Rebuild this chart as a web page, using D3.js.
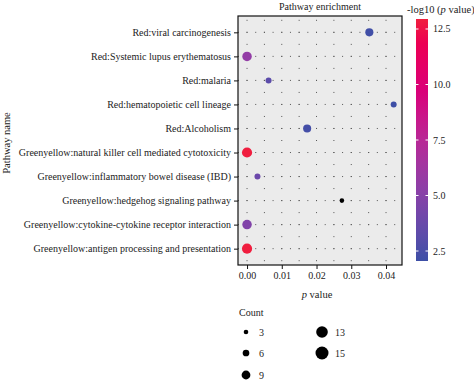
<!DOCTYPE html>
<html>
<head>
<meta charset="utf-8">
<script src="https://cdn.jsdelivr.net/npm/d3@7"></script>
<style>
  body { margin: 0; background: #fff; }
  text { font-family: "Liberation Serif", "DejaVu Serif", serif; fill: #222; }
</style>
</head>
<body>
<script>
var pathways = [
  'Red:viral carcinogenesis',
  'Red:Systemic lupus erythematosus',
  'Red:malaria',
  'Red:hematopoietic cell lineage',
  'Red:Alcoholism',
  'Greenyellow:natural killer cell mediated cytotoxicity',
  'Greenyellow:inflammatory bowel disease (IBD)',
  'Greenyellow:hedgehog signaling pathway',
  'Greenyellow:cytokine-cytokine receptor interaction',
  'Greenyellow:antigen processing and presentation'
]
var pValues = [0.0352, 0.0000, 0.0062, 0.0422, 0.0173, 0.0000, 0.0030, 0.0273, 0.0000, 0.0000]
var counts = [8, 10, 5, 5, 8, 11, 5, 3, 10, 11]
// -log10 colour value; null = drawn black
var colorValues = [2.2, 5.6, 3.2, 2.1, 2.3, 12.9, 3.9, null, 4.8, 12.9]

var xTicks = [0.00, 0.01, 0.02, 0.03, 0.04]
var colorTicks = [2.5, 5.0, 7.5, 10.0, 12.5]
var legendCounts = [3, 6, 9, 13, 15]

var w = 474
var h = 381

var panel = { left: 238, right: 402, top: 16, bottom: 265 }

var svg = d3.select('body')
            .append('svg')
            .attr('width', w)
            .attr('height', h)

var data = pathways.map(function (d, i) {
  return { name: d, p: pValues[i], count: counts[i], c: colorValues[i] }
})

var x = d3.scaleLinear()
        .domain([-0.0026, 0.0446])
        .range([panel.left, panel.right])

var y = d3.scalePoint()
        .domain(pathways)
        .range([panel.top, panel.bottom])
        .padding(0.68)

var r = d3.scaleLinear()
        .domain([3, 15])
        .range([2.3, 6.5])

var color = d3.scaleLinear()
        .domain([2.05, 12.95])
        .range(['#3d4fa6', '#f01f3e'])
        .interpolate(d3.interpolateHcl)

// PANEL BACKGROUND
svg.append('rect')
    .attr('x', panel.left)
    .attr('y', panel.top)
    .attr('width', panel.right - panel.left)
    .attr('height', panel.bottom - panel.top)
    .attr('fill', '#ebebeb')

// DOTTED GRID
var gridX = d3.range(0, 0.0401, 0.005)
svg.append('g')
    .selectAll('line')
    .data(gridX)
    .enter()
      .append('line')
      .attr('x1', function (d) { return x(d) })
      .attr('x2', function (d) { return x(d) })
      .attr('y1', panel.top)
      .attr('y2', panel.bottom)
      .attr('stroke', '#555')
      .attr('stroke-width', 1)
      .attr('stroke-dasharray', '1,' + (y.step() / 2 - 1))
      .attr('stroke-dashoffset', -(y(pathways[0]) - panel.top - 0.5))

var dotStep = x(0.0025) - x(0)
svg.append('g')
    .selectAll('line')
    .data(pathways)
    .enter()
      .append('line')
      .attr('x1', panel.left)
      .attr('x2', panel.right)
      .attr('y1', function (d) { return y(d) })
      .attr('y2', function (d) { return y(d) })
      .attr('stroke', '#555')
      .attr('stroke-width', 1)
      .attr('stroke-dasharray', '1,' + (dotStep - 1))
      .attr('stroke-dashoffset', -((x(0) - panel.left) % dotStep - 0.5))

// POINTS
svg.append('g')
    .selectAll('circle')
    .data(data)
    .enter()
      .append('circle')
      .attr('cx', function (d) { return x(d.p) })
      .attr('cy', function (d) { return y(d.name) })
      .attr('r', function (d) { return r(d.count) })
      .attr('fill', function (d) { return d.c === null ? '#000' : color(d.c) })

// BORDER
svg.append('rect')
    .attr('x', panel.left)
    .attr('y', panel.top)
    .attr('width', panel.right - panel.left)
    .attr('height', panel.bottom - panel.top)
    .attr('fill', 'none')
    .attr('stroke', '#111')
    .attr('stroke-width', 1.2)

// AXES
var xAxis = d3.axisBottom(x)
              .tickValues(xTicks)
              .tickFormat(d3.format('.2f'))
              .tickSize(4)
              .tickPadding(3)

var yAxis = d3.axisLeft(y)
              .tickSize(4)
              .tickPadding(3)

var gx = svg.append('g')
    .attr('transform', 'translate(0,' + panel.bottom + ')')
    .call(xAxis)
gx.select('.domain').remove()
gx.selectAll('text').style('font-size', '10px').style('font-family', '"Liberation Serif", serif').attr('fill', '#222')
gx.selectAll('line').attr('stroke', '#111')

var gy = svg.append('g')
    .attr('transform', 'translate(' + panel.left + ',0)')
    .call(yAxis)
gy.select('.domain').remove()
gy.selectAll('text').style('font-size', '10px').style('font-family', '"Liberation Serif", serif').attr('fill', '#222')
gy.selectAll('line').attr('stroke', '#111')

// TITLES
svg.append('text')
    .attr('x', (panel.left + panel.right) / 2)
    .attr('y', 10)
    .attr('text-anchor', 'middle')
    .style('font-size', '10px')
    .text('Pathway enrichment')

var xt = svg.append('text')
    .attr('x', (panel.left + panel.right) / 2 - 3)
    .attr('y', 298)
    .attr('text-anchor', 'middle')
    .style('font-size', '10.5px')
xt.append('tspan').style('font-style', 'italic').text('p')
xt.append('tspan').text(' value')

svg.append('text')
    .attr('transform', 'translate(10,143) rotate(-90)')
    .attr('text-anchor', 'middle')
    .style('font-size', '10.5px')
    .text('Pathway name')

// COLOUR BAR
var bar = { x: 416, w: 12, top: 19, bottom: 261 }
var cy = d3.scaleLinear()
        .domain(color.domain())
        .range([bar.bottom, bar.top])

var grad = svg.append('defs')
    .append('linearGradient')
    .attr('id', 'cbar')
    .attr('x1', 0).attr('y1', 1).attr('x2', 0).attr('y2', 0)
d3.range(0, 1.001, 0.1).forEach(function (t) {
  var v = color.domain()[0] + t * (color.domain()[1] - color.domain()[0])
  grad.append('stop').attr('offset', t).attr('stop-color', color(v))
})

svg.append('rect')
    .attr('x', bar.x)
    .attr('y', bar.top)
    .attr('width', bar.w)
    .attr('height', bar.bottom - bar.top)
    .attr('fill', 'url(#cbar)')

var cticks = svg.append('g')
    .selectAll('g')
    .data(colorTicks)
    .enter()
      .append('g')
cticks.append('line')
    .attr('x1', bar.x).attr('x2', bar.x + 2.5)
    .attr('y1', function (d) { return cy(d) })
    .attr('y2', function (d) { return cy(d) })
    .attr('stroke', '#fff')
cticks.append('line')
    .attr('x1', bar.x + bar.w - 2.5).attr('x2', bar.x + bar.w)
    .attr('y1', function (d) { return cy(d) })
    .attr('y2', function (d) { return cy(d) })
    .attr('stroke', '#fff')
cticks.append('text')
    .attr('x', bar.x + bar.w + 5)
    .attr('y', function (d) { return cy(d) })
    .attr('dy', '0.35em')
    .style('font-size', '10px')
    .text(function (d) { return d.toFixed(1) })

var ct = svg.append('text')
    .attr('x', 407)
    .attr('y', 13)
    .style('font-size', '10.5px')
ct.append('tspan').text('-log10 (')
ct.append('tspan').style('font-style', 'italic').text('p')
ct.append('tspan').text(' value)')

// SIZE LEGEND
svg.append('text')
    .attr('x', 239)
    .attr('y', 316)
    .style('font-size', '10px')
    .text('Count')

var legPos = [
  { x: 246, y: 332 }, { x: 246, y: 353 }, { x: 246, y: 375 },
  { x: 322, y: 332 }, { x: 322, y: 353 }
]
var leg = svg.append('g')
    .selectAll('g')
    .data(legendCounts)
    .enter()
      .append('g')
      .attr('transform', function (d, i) { return 'translate(' + legPos[i].x + ',' + legPos[i].y + ')' })
leg.append('circle')
    .attr('r', function (d) { return r(d) })
    .attr('fill', '#000')
leg.append('text')
    .attr('x', 13)
    .attr('dy', '0.35em')
    .style('font-size', '10px')
    .text(function (d) { return d })
</script>
</body>
</html>
